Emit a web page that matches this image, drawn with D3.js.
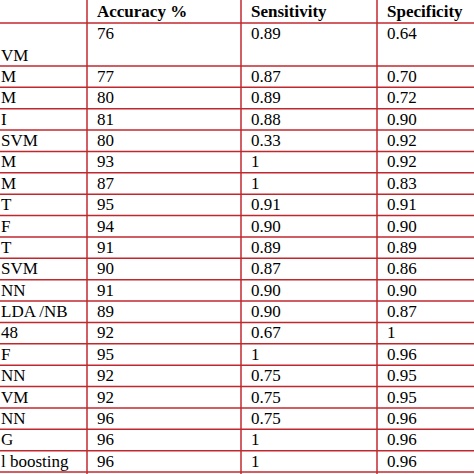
<!DOCTYPE html><html><head><meta charset="utf-8"><script src="https://cdn.jsdelivr.net/npm/d3@7"></script>
<style>body{margin:0;background:#fff}</style></head><body><svg id="c" width="474" height="474"></svg>
<script>
const headers=["","Accuracy %","Sensitivity","Specificity"];
const methods=["VM","M","M","I","SVM","M","M","T","F","T","SVM","NN","LDA /NB","48","F","NN","VM","NN","G","l boosting"];
const accuracy=["76","77","80","81","80","93","87","95","94","91","90","91","89","92","95","92","92","96","96","96"];
const sensitivity=["0.89","0.87","0.89","0.88","0.33","1","1","0.91","0.90","0.89","0.87","0.90","0.90","0.67","1","0.75","0.75","0.75","1","1"];
const specificity=["0.64","0.70","0.72","0.90","0.92","0.92","0.83","0.91","0.90","0.89","0.86","0.90","0.87","1","0.96","0.95","0.95","0.96","0.96","0.96"];
const svg=d3.select("#c");
const colX=[0,87,241,377];
const red="#c0282e";
const rowTop=d3.scaleLinear().domain([0,19]).range([66,472]);
const rows=methods.map((m,i)=>({m,a:accuracy[i],s:sensitivity[i],p:specificity[i],
 y0:i===0?23:rowTop(i-1),y1:rowTop(i)}));
const f="Liberation Serif, Times New Roman, serif";
// header
headers.forEach((h,j)=>svg.append("text").attr("x",colX[j]+10).attr("y",17).attr("font-family",f).attr("font-size",17).attr("font-weight","bold").text(h));
rows.forEach((r,i)=>{
 const tY=r.y0+16;
 svg.append("text").attr("x",1).attr("y",i===0?r.y1-5:tY).attr("font-family",f).attr("font-size",17).text(r.m);
 [r.a,r.s,r.p].forEach((v,j)=>svg.append("text").attr("x",colX[j+1]+10).attr("y",tY).attr("font-family",f).attr("font-size",17).text(v));
});
// lines
[23].concat(rows.map(r=>r.y1)).forEach(y=>svg.append("line").attr("x1",0).attr("x2",474).attr("y1",y).attr("y2",y).attr("stroke",red).attr("stroke-width",1.5));
colX.slice(1).forEach(x=>svg.append("line").attr("x1",x).attr("x2",x).attr("y1",0).attr("y2",474).attr("stroke",red).attr("stroke-width",1.5));
</script></body></html>
